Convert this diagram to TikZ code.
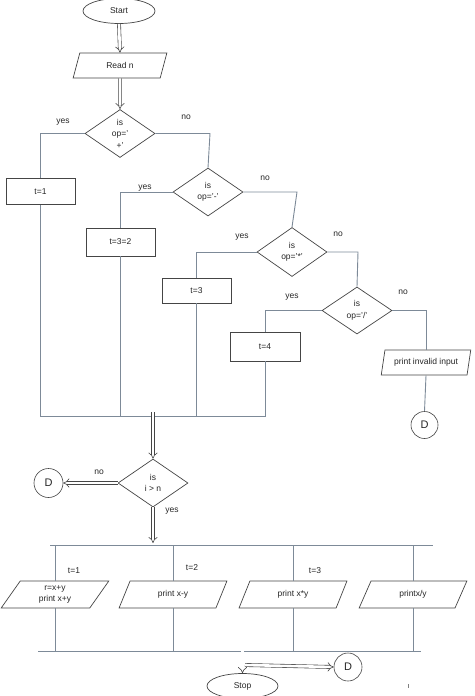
\documentclass[tikz,border=0pt]{standalone}
\usepackage{fontspec}
\setmainfont{Liberation Sans}
\usetikzlibrary{shapes.geometric,arrows.meta}
\definecolor{connc}{HTML}{7D8A98}
\definecolor{edgec}{HTML}{454545}
\begin{document}
\begin{tikzpicture}[x=1pt,y=-1pt,
  every node/.style={font=\fontsize{8.5}{11.5}\selectfont, text=black!85},
  box/.style={draw=edgec, line width=0.7pt, rectangle, fill=white, minimum width=69pt, minimum height=26pt, inner sep=0pt},
  dec/.style={draw=edgec, line width=0.7pt, diamond, fill=white, minimum width=70pt, minimum height=48pt, inner sep=0pt, align=center},
  io/.style={draw=edgec, line width=0.7pt, trapezium, trapezium left angle=70, trapezium right angle=110, trapezium stretches=true, fill=white, minimum width=94pt, minimum height=25pt, inner sep=0pt, align=center},
  iob/.style={io, trapezium left angle=64, trapezium right angle=116, minimum width=108pt, minimum height=27pt},
  term/.style={draw=edgec, line width=0.7pt, ellipse, fill=white, minimum width=72pt, minimum height=25pt, inner sep=0pt},
  cnode/.style={draw=edgec, circle, line width=0.6pt, fill=white, minimum size=28pt, inner sep=0pt, font=\fontsize{11}{12}\selectfont},
  line/.style={draw=connc, line width=0.9pt},
  dbl/.style={draw=edgec, line width=0.6pt, double=white, double distance=2.6pt, -{Implies[length=6pt,width=12pt]}},
  lab/.style={inner sep=0pt}
]
\useasboundingbox (0,0) rectangle (474,696);

% nodes
\node[term] (start) at (119,11) {Start};
\node[io] (readn) at (120,65.5) {Read n};
\node[dec] (d1) at (120,133.5) {is\\op='\\+'};
\node[box] (t1) at (40.5,191.5) {t=1};
\node[dec] (d2) at (208,192) {is\\op='-'};
\node[box, minimum height=28pt] (t32) at (120.5,242) {t=3=2};
\node[dec, minimum height=49pt] (d3) at (292,252) {is\\op='*'};
\node[box, minimum height=25pt] (t3) at (196.5,290.5) {t=3};
\node[dec, minimum height=47pt] (d4) at (357,310.5) {is\\op='/'};
\node[box, minimum width=70pt, minimum height=29pt] (t4) at (265,346.5) {t=4};
\node[io, minimum width=90pt] (pinv) at (426,362.5) {print invalid input};
\node[cnode, minimum size=27pt] (dr) at (424.5,425) {D};

\node[dec] (d5) at (153,483) {is\\i > n};
\node[cnode, minimum size=29pt] (dl) at (48.5,483) {D};

\node[iob] (p1) at (55,594.5) {r=x+y\\print x+y};
\node[iob] (p2) at (173,594.5) {print x-y};
\node[iob] (p3) at (293,594.5) {print x*y};
\node[iob] (p4) at (413,594.5) {printx/y};

\node[term, minimum width=71pt] (stop) at (242.5,686) {Stop};
\node[cnode] (db) at (348,667) {D};

% labels
\node[lab] (l1) at (63,122) {yes};
\node[lab] (l2) at (186,117) {no};
\node[lab] (l3) at (145,188) {yes};
\node[lab] (l4) at (265,178) {no};
\node[lab] (l5) at (242,237) {yes};
\node[lab] (l6) at (338,234) {no};
\node[lab] (l7) at (292,297) {yes};
\node[lab] (l8) at (403,292) {no};
\node[lab] (l9) at (99,472) {no};
\node[lab] (l10) at (172,511) {yes};
\node[lab] (l11) at (74,571) {t=1};
\node[lab] (l12) at (192,568) {t=2};
\node[lab] (l13) at (315,571) {t=3};

% coordinates
\coordinate (k1) at (210,133.5);
\coordinate (k2) at (297,192);
\coordinate (k3) at (358,252);
\coordinate (bl) at (40,416.5);
\coordinate (br) at (266,416.5);
\coordinate (a1) at (153,412);
\coordinate (a2) at (153,543);
\coordinate (b2l) at (50,545);
\coordinate (b2r) at (433,545);
\coordinate (b3l) at (38,651);
\coordinate (b3r) at (421,651);
\coordinate (s1) at (242.5,651);
\coordinate (s2) at (245,665);

% plain connectors
\draw[line] (d1.west) -| (t1.north);
\draw[line] (d1.east) -- (k1) -- (d2.north);
\draw[line] (d2.west) -| (t32.north);
\draw[line] (d2.east) -- (k2) -- (d3.north);
\draw[line] (d3.west) -| (t3.north);
\draw[line] (d3.east) -- (k3) -- (d4.north);
\draw[line] (d4.west) -| (t4.north);
\draw[line] (d4.east) -| (pinv.north);
\draw[line] (pinv.south) -- (dr.north);
\draw[line] (bl) -- (br);
\draw[line] (t1.south) -- (t1.south |- bl);
\draw[line] (t32.south) -- (t32.south |- bl);
\draw[line] (t3.south) -- (t3.south |- bl);
\draw[line] (t4.south) -- (t4.south |- bl);

\draw[line] (b2l) -- (b2r);
\draw[line] (b3l) -- (b3r);
\foreach \p in {p1,p2,p3,p4}{
  \draw[line] (\p.north |- b2l) -- (\p.north);
  \draw[line] (\p.south) -- (\p.south |- b3l);
}

% double arrows
\draw[dbl] (start.south) -- (readn.north);
\draw[dbl] (readn.south) -- (d1.north);
\draw[dbl] (a1) -- (d5.north);
\draw[dbl] (d5.west) -- (dl.east);
\draw[dbl] (d5.south) -- (a2);
\draw[dbl] (s1) -- (stop.north);
\draw[dbl] (s2) -- (db.west);

% small tick
\draw[gray, line width=0.5pt] (408,684) -- (408,688);
\end{tikzpicture}
\end{document}
